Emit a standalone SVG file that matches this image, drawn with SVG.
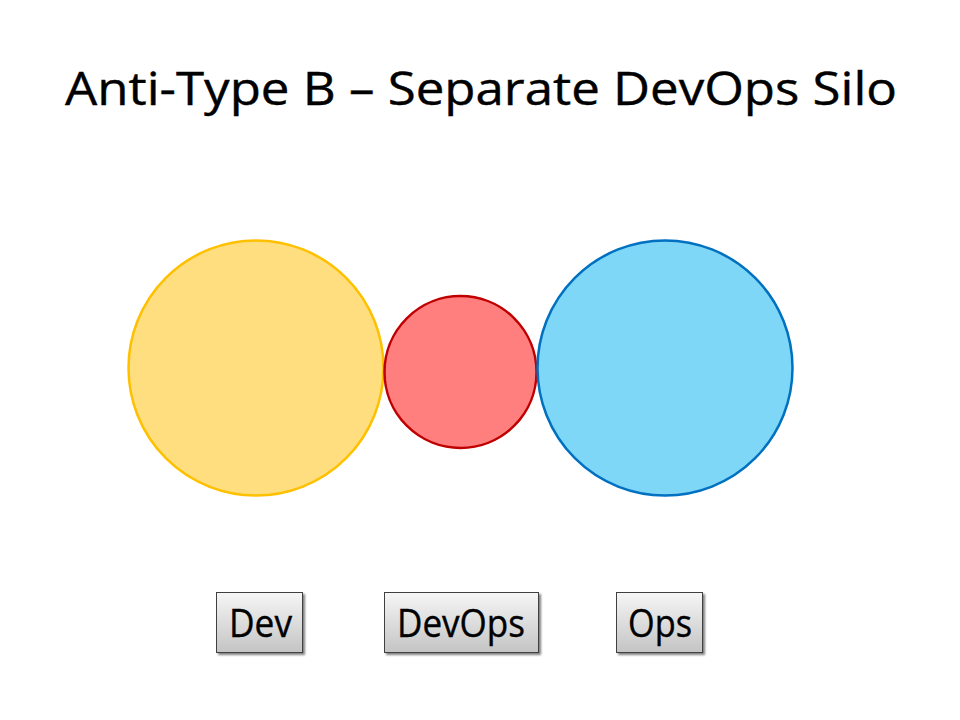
<svg xmlns="http://www.w3.org/2000/svg" width="960" height="720" viewBox="0 0 960 720">
<defs>
<linearGradient id="btn" x1="0" y1="0" x2="0" y2="1">
<stop offset="0" stop-color="#f6f6f6"/>
<stop offset="1" stop-color="#c4c4c4"/>
</linearGradient>
<filter id="sh" x="-20%" y="-20%" width="140%" height="140%">
<feGaussianBlur in="SourceAlpha" stdDeviation="1.2"/>
<feOffset dx="1.5" dy="1.5" result="b"/>
<feComponentTransfer><feFuncA type="linear" slope="0.5"/></feComponentTransfer>
<feMerge><feMergeNode/><feMergeNode in="SourceGraphic"/></feMerge>
</filter>
</defs>
<style>
.t{font-family:"Open Sans","Noto Sans",sans-serif;fill:#000;stroke:#000;stroke-width:0.4}
.lbl{fill:url(#btn);stroke:#404040;stroke-width:1;filter:url(#sh)}
</style>
<rect width="960" height="720" fill="#fff"/>
<text class="t" x="65" y="105" font-size="45" textLength="832" lengthAdjust="spacingAndGlyphs">Anti-Type B – Separate DevOps Silo</text>
<g id="connectors"></g>
<g id="dev-circle"><circle cx="256" cy="368" r="127.5" fill="#fede7f" stroke="#ffc000" stroke-width="2.5"/></g>
<g id="devops-circle"><circle cx="460.5" cy="372" r="76" fill="#ff7f7f" stroke="#c00000" stroke-width="2.5"/></g>
<g id="ops-circle"><circle cx="665" cy="368" r="127.5" fill="#7fd7f7" stroke="#0070c0" stroke-width="2.5"/></g>
<g id="dev-label"><rect class="lbl" x="216.5" y="592.5" width="86" height="60"/><text class="t" x="229" y="637" font-size="39" textLength="63" lengthAdjust="spacingAndGlyphs">Dev</text></g>
<g id="devops-label"><rect class="lbl" x="384.5" y="592.5" width="154" height="60"/><text class="t" x="397" y="637" font-size="39" textLength="128" lengthAdjust="spacingAndGlyphs">DevOps</text></g>
<g id="ops-label"><rect class="lbl" x="616.5" y="592.5" width="86" height="60"/><text class="t" x="628" y="637" font-size="39" textLength="64" lengthAdjust="spacingAndGlyphs">Ops</text></g>
</svg>
